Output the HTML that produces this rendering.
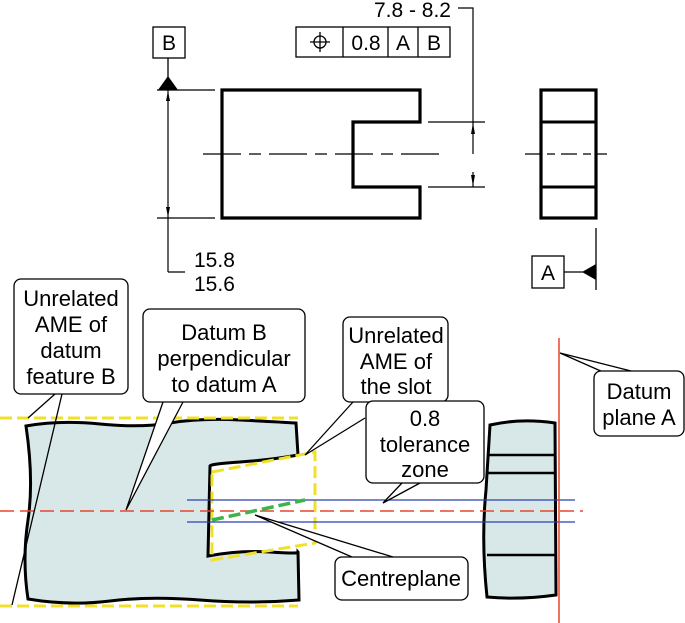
<!DOCTYPE html>
<html><head><style>
html,body{margin:0;padding:0;background:#fff;}
svg{display:block;}
text{font-family:"Liberation Sans",sans-serif;fill:#000;}
</style></head><body>
<svg width="685" height="623" viewBox="0 0 685 623" xmlns="http://www.w3.org/2000/svg">
<g stroke="#000" fill="none">
<rect x="153" y="27" width="32" height="31" stroke-width="1.3"/>
<line x1="168" y1="58" x2="168" y2="80" stroke-width="1.3"/>
<line x1="157" y1="90" x2="215" y2="90" stroke-width="1.2"/>
<line x1="157" y1="218" x2="215" y2="218" stroke-width="1.2"/>
<line x1="168" y1="90" x2="168" y2="272" stroke-width="1.2"/>
<line x1="168" y1="272" x2="185" y2="272" stroke-width="1.2"/>
<path d="M222,90 H420 V122 H353 V187 H420 V218 H222 Z" stroke-width="3.2"/>
<line x1="203" y1="154" x2="440" y2="154" stroke-width="1.2" stroke-dasharray="38,8,12,8"/>
<line x1="428" y1="122" x2="485" y2="122" stroke-width="1.2"/>
<line x1="428" y1="187" x2="485" y2="187" stroke-width="1.2"/>
<polyline points="458,8 473,8 473,154" stroke-width="1.2"/>
<line x1="473" y1="172" x2="473" y2="187" stroke-width="1.2"/>
<rect x="296" y="27" width="154" height="30" stroke-width="1.3"/>
<line x1="343" y1="27" x2="343" y2="57" stroke-width="1.3"/>
<line x1="388" y1="27" x2="388" y2="57" stroke-width="1.3"/>
<line x1="418" y1="27" x2="418" y2="57" stroke-width="1.3"/>
<circle cx="320" cy="42" r="6" stroke-width="1.3"/>
<line x1="310" y1="42" x2="330" y2="42" stroke-width="1.3"/>
<line x1="320" y1="32" x2="320" y2="52" stroke-width="1.3"/>
<rect x="541" y="90" width="55" height="128" stroke-width="3.2"/>
<line x1="541" y1="122" x2="596" y2="122" stroke-width="3"/>
<line x1="541" y1="187" x2="596" y2="187" stroke-width="3"/>
<line x1="525" y1="154" x2="607" y2="154" stroke-width="1.2" stroke-dasharray="16,6,8,6"/>
<rect x="532" y="256" width="32" height="32" stroke-width="1.3"/>
<line x1="564" y1="272" x2="583" y2="272" stroke-width="1.3"/>
<line x1="596" y1="228" x2="596" y2="290" stroke-width="1.3"/>
</g>
<g fill="#000">
<polygon points="168,76 158,90 178,90"/>
<polygon points="168,91 166,101 170,101"/>
<polygon points="168,217 166,207 170,207"/>
<polygon points="473,123 471,134 475,134"/>
<polygon points="473,186 471,175 475,175"/>
<polygon points="596,264 596,280 582,272"/>
</g>
<g font-size="21">
<text x="169" y="50" text-anchor="middle">B</text>
<text x="366" y="50" text-anchor="middle">0.8</text>
<text x="403" y="50" text-anchor="middle">A</text>
<text x="434" y="50" text-anchor="middle">B</text>
<text x="451" y="17" text-anchor="end">7.8 - 8.2</text>
<text x="194" y="267">15.8</text>
<text x="194" y="291">15.6</text>
<text x="548" y="280" text-anchor="middle">A</text>
</g>

<path d="M26,426 Q60,420 100,424 T170,423 T240,420 T296,423 L298,455 Q270,460 240,462 T210,466 L208,556 Q240,550 270,552 T298,552 L299,600 Q250,604 200,600 T110,601 T28,599 Q22,560 28,520 T26,426 Z" fill="#d8e8e8" stroke="#000" stroke-width="3"/>
<path d="M490,425 Q520,418 555,423 L556,595 Q520,600 487,597 Q481,540 486,490 Z" fill="#d8e8e8" stroke="#000" stroke-width="3"/>
<g stroke="#000" stroke-width="2.5">
<line x1="487" y1="455" x2="555" y2="455"/>
<line x1="487" y1="473" x2="556" y2="473"/>
<line x1="487" y1="555" x2="556" y2="555"/>
</g>
<g stroke="#f1e02a" stroke-width="3" stroke-dasharray="12,5" fill="none">
<line x1="0" y1="418" x2="298" y2="418"/>
<line x1="0" y1="606" x2="298" y2="606"/>
<polygon points="212,472 315,452 315,543 212,560"/>
</g>
<g stroke="#2b3fb0" stroke-width="1.3">
<line x1="187" y1="500" x2="575" y2="500"/>
<line x1="187" y1="522" x2="575" y2="522"/>
</g>
<line x1="0" y1="511" x2="583" y2="511" stroke="#e8452c" stroke-width="1.5" stroke-dasharray="14,6"/>
<line x1="559" y1="338" x2="559" y2="623" stroke="#e8452c" stroke-width="1.5"/>
<line x1="212" y1="520" x2="305" y2="500" stroke="#3cb44b" stroke-width="3.5" stroke-dasharray="12,5"/>

<g stroke="#000" stroke-width="1.3" fill="#fff">
<line x1="55" y1="394" x2="28" y2="418"/>
<line x1="62" y1="394" x2="12" y2="605"/>
<rect x="14" y="279" width="114" height="115" rx="7"/>
<path d="M163,402 L126,510 L183,402"/>
<rect x="143" y="309" width="162" height="93" rx="7"/>
<path d="M353,402 L305,455 L365,418" fill="none"/>
<rect x="343" y="317" width="105" height="85" rx="7"/>
<path d="M402,483 L383,503 L420,483"/>
<rect x="366" y="401" width="118" height="82" rx="7"/>
<path d="M352,557 L255,515 L393,557"/>
<rect x="335" y="557" width="133" height="43" rx="7"/>
<path d="M603,372 L560,353 L635,372"/>
<rect x="594" y="371" width="90" height="65" rx="7"/>
</g>
<g font-size="22" text-anchor="middle">
<text x="71" y="306">Unrelated</text>
<text x="71" y="332">AME of</text>
<text x="71" y="358">datum</text>
<text x="71" y="384">feature B</text>
<text x="224" y="340">Datum B</text>
<text x="224" y="366">perpendicular</text>
<text x="224" y="392">to datum A</text>
<text x="396" y="343">Unrelated</text>
<text x="396" y="369">AME of</text>
<text x="396" y="394">the slot</text>
<text x="425" y="426">0.8</text>
<text x="425" y="452">tolerance</text>
<text x="425" y="477">zone</text>
<text x="401" y="586">Centreplane</text>
<text x="639" y="399">Datum</text>
<text x="639" y="425">plane A</text>
</g>
</svg>
</body></html>
